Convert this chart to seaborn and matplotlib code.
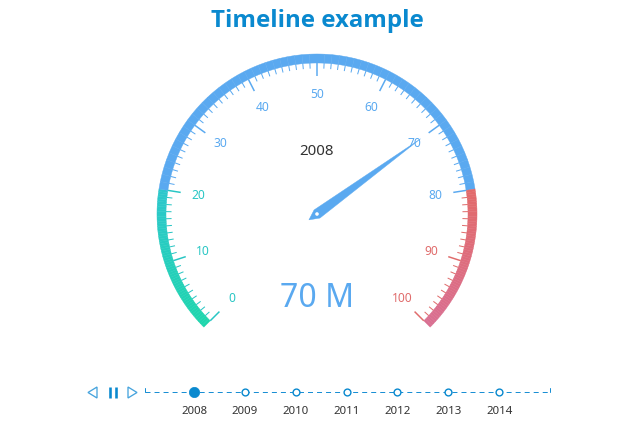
import numpy as np
import matplotlib
matplotlib.use("Agg")
import matplotlib.pyplot as plt
from matplotlib.patches import Wedge, Polygon, Circle
from matplotlib.colors import to_rgb
import seaborn as sns

# ---------------- data ----------------
title = "Timeline example"
years = [2008, 2009, 2010, 2011, 2012, 2013, 2014]
current_year = 2008
gauge_value = 70
value_unit = "M"
gauge_min, gauge_max = 0, 100
major_step = 10
minor_per_major = 10
segment_stops = [0.2, 0.8, 1.0]
segment_colors = [("#1ed6ac", "#2cc7cc"), ("#5aa9f0", "#5aa9f0"), ("#e26a6a", "#d96f92")]
segment_label_colors = ["#28c6c4", "#5aa9f0", "#e06c6c"]

# ---------------- setup ----------------
sns.set_theme(style="white")
plt.rcParams["font.family"] = ["Noto Sans", "DejaVu Sans"]
plt.rcParams["lines.scale_dashes"] = False

W, H = 634, 423
fig = plt.figure(figsize=(W / 100, H / 100), dpi=100)
ax = fig.add_axes([0, 0, 1, 1])
ax.set_xlim(0, W)
ax.set_ylim(0, H)
ax.axis("off")

PX = 0.72  # points per pixel
cx, cy = 317, H - 214
R_out, arc_w = 160, 9
start_ang, end_ang = 225, -45


def ang(v):
    return start_ang - (v - gauge_min) / (gauge_max - gauge_min) * (start_ang - end_ang)


def color_at(frac):
    lo = 0.0
    for hi, (c1, c2) in zip(segment_stops, segment_colors):
        if frac <= hi + 1e-9:
            t = (frac - lo) / (hi - lo)
            return tuple(np.array(to_rgb(c1)) * (1 - t) + np.array(to_rgb(c2)) * t)
        lo = hi
    return to_rgb(segment_colors[-1][1])


def label_color_at(frac):
    for hi, c in zip(segment_stops, segment_label_colors):
        if frac <= hi + 1e-9:
            return c
    return segment_label_colors[-1]


def pol(v, r):
    a = np.radians(ang(v))
    return cx + r * np.cos(a), cy + r * np.sin(a)


# arc
lo = 0.0
for hi in segment_stops:
    n = 60
    edges = np.linspace(lo, hi, n + 1)
    for f1, f2 in zip(edges[:-1], edges[1:]):
        c = color_at((f1 + f2) / 2)
        v1 = gauge_min + f1 * (gauge_max - gauge_min)
        v2 = gauge_min + f2 * (gauge_max - gauge_min)
        ax.add_patch(Wedge((cx, cy), R_out, ang(v2), ang(v1), width=arc_w,
                           facecolor=c, edgecolor=c, lw=0.3))
    lo = hi

# ticks and labels
minor_step = major_step / minor_per_major
ticks = np.arange(gauge_min, gauge_max + minor_step / 2, minor_step)
for v in ticks:
    frac = (v - gauge_min) / (gauge_max - gauge_min)
    c = label_color_at(frac)
    is_major = abs(v / major_step - round(v / major_step)) < 1e-6
    if is_major:
        x1, y1 = pol(v, 151)
        x2, y2 = pol(v, 138)
        ax.plot([x1, x2], [y1, y2], color=c, lw=1.5 * PX, solid_capstyle="butt")
        lx, ly = pol(v, 120)
        ax.text(lx, ly, f"{int(round(v))}", color=c, fontsize=12 * PX,
                ha="center", va="center")
    else:
        x1, y1 = pol(v, 151)
        x2, y2 = pol(v, 145.5)
        ax.plot([x1, x2], [y1, y2], color=c, lw=1.0 * PX, solid_capstyle="butt")

# needle
a = np.radians(ang(gauge_value))
d = np.array([np.cos(a), np.sin(a)])
p = np.array([-np.sin(a), np.cos(a)])
c0 = np.array([cx, cy])
nw = 5
needle = [c0 - d * 2 * nw, c0 + p * nw, c0 + d * 128, c0 - p * nw]
ax.add_patch(Polygon(needle, closed=True, facecolor="#5aa9f0", edgecolor="#5aa9f0", lw=0.3))
ax.add_patch(Circle((cx, cy), 1.8, facecolor="white", edgecolor="none"))

# texts
ax.text(cx, H - 151, f"{current_year}", color="#333333", fontsize=15 * PX,
        ha="center", va="center")
ax.text(cx, H - 298, f"{gauge_value} {value_unit}", color="#5aa9f0", fontsize=32 * PX,
        ha="center", va="center")
ax.text(cx, H - 21, title, color="#0a89cf", fontsize=24 * PX, fontweight="bold",
        family=["Open Sans", "DejaVu Sans"], ha="center", va="center")

# timeline controls
tl_color = "#1a8fd4"
ax.add_patch(Polygon([(97, H - 387), (88, H - 392.5), (97, H - 398)], closed=True,
                     fill=False, edgecolor="#45a3dd", lw=1.3 * PX))
ax.add_patch(Polygon([(128, H - 387), (137, H - 392.5), (128, H - 398)], closed=True,
                     fill=False, edgecolor="#45a3dd", lw=1.3 * PX))
for bx in (109.5, 115.5):
    ax.plot([bx, bx], [H - 386.5, H - 398], color="#0a89cf", lw=2.6 * PX,
            solid_capstyle="butt")

# timeline axis
tl = fig.add_axes([145 / W, (H - 400) / H, 405 / W, 16 / H])
x0, x1 = years[0] - 0.964, years[-1] + 1.0
tl.set_xlim(x0, x1)
tl.set_ylim(-1, 1)
tl.axis("off")
sns.lineplot(x=[x0, x1], y=[0, 0], ax=tl, color=tl_color, lw=1.0 * PX,
             linestyle=(0, (3.6, 2.9)))
for xe in (x0, x1):
    tl.plot([xe, xe], [0, 0.5], color=tl_color, lw=1.0 * PX, clip_on=False)
others = [y for y in years if y != current_year]
sns.scatterplot(x=others, y=[0] * len(others), ax=tl, s=24, color="white",
                edgecolor="#0a89cf", linewidth=1.4 * PX, zorder=3, clip_on=False)
sns.scatterplot(x=[current_year], y=[0], ax=tl, s=55, color="#0a89cf",
                edgecolor="#0a89cf", linewidth=0.5, zorder=4, clip_on=False)
for yr in years:
    tl.text(yr, -2.4, str(yr), color="#333333", fontsize=11.5 * PX,
            ha="center", va="center", clip_on=False)

fig.savefig("out.png", dpi=100)
